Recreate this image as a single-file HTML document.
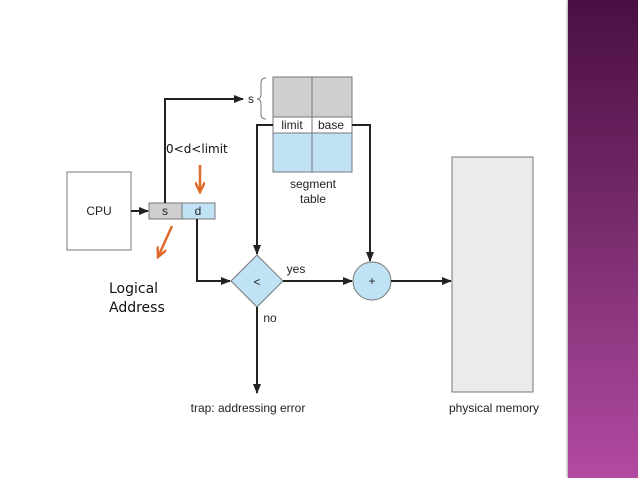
<!DOCTYPE html>
<html><head><style>
body{margin:0;width:638px;height:478px;background:#fff;overflow:hidden;position:relative;font-family:"Liberation Sans",sans-serif}
.bar{position:absolute;left:568px;top:0;width:70px;height:478px;background:linear-gradient(#4a0f42,#762a6a 45%,#b24aa2);box-shadow:-1px 0 2px #aaa}
</style></head><body>
<div class="bar"></div>
<svg width="638" height="478" style="position:absolute;left:0;top:0" font-family="Liberation Sans, sans-serif">
<defs>
<marker id="a" markerWidth="10" markerHeight="8" refX="9" refY="4" orient="auto" markerUnits="userSpaceOnUse"><path d="M0,0L10,4L0,8z" fill="#222"/></marker>
<marker id="o" markerWidth="12" markerHeight="10" refX="10" refY="5" orient="auto" markerUnits="userSpaceOnUse"><path d="M0,0L10,5L0,10" fill="none" stroke="#e06a2a" stroke-width="2.5"/></marker>
</defs>
<g stroke="#777" stroke-width="1" fill="#fff">
<rect x="67" y="172" width="64" height="78"/>
<rect x="149" y="203" width="33" height="16" fill="#cfcfd1"/>
<rect x="182" y="203" width="33" height="16" fill="#bfe2f5"/>
<rect x="273" y="77" width="79" height="40" fill="#cfcfd1"/>
<rect x="273" y="117" width="79" height="16" fill="#fff"/>
<rect x="273" y="133" width="79" height="39" fill="#bfe2f5"/>
<line x1="312" y1="77" x2="312" y2="172"/>
<rect x="452" y="157" width="81" height="235" fill="#ebebeb"/>
<path d="M257,255L283,281L257,307L231,281z" fill="#bfe2f5"/>
<circle cx="372" cy="281" r="19" fill="#bfe2f5"/>
</g>
<g stroke="#222" stroke-width="2" fill="none">
<line x1="131" y1="211" x2="148" y2="211" marker-end="url(#a)"/>
<polyline points="165,203 165,99 243,99" marker-end="url(#a)"/>
<polyline points="197,219 197,281 230,281" marker-end="url(#a)"/>
<polyline points="273,125 257,125 257,254" marker-end="url(#a)"/>
<polyline points="352,125 370,125 370,261" marker-end="url(#a)"/>
<line x1="283" y1="281" x2="352" y2="281" marker-end="url(#a)"/>
<line x1="391" y1="281" x2="451" y2="281" marker-end="url(#a)"/>
<line x1="257" y1="307" x2="257" y2="393" marker-end="url(#a)"/>
</g>
<path d="M266,78 q-5,0 -5,5 v11 q0,5 -4,5 q4,0 4,5 v10 q0,5 5,5" stroke="#777" fill="none"/>
<g stroke="#e06a2a" stroke-width="2.5" fill="none">
<line x1="200" y1="165" x2="200" y2="192" marker-end="url(#o)"/>
<line x1="172" y1="226" x2="158" y2="257" marker-end="url(#o)"/>
</g>
<g font-size="12" fill="#222" text-anchor="middle">
<text x="99" y="215">CPU</text>
<text x="165" y="215">s</text>
<text x="198" y="215">d</text>
<text x="251" y="103">s</text>
<text x="292" y="129">limit</text>
<text x="331" y="129">base</text>
<text x="313" y="188">segment</text>
<text x="313" y="203">table</text>
<text x="257" y="286">&lt;</text>
<text x="372" y="285">+</text>
<text x="296" y="273">yes</text>
<text x="270" y="322">no</text>
<text x="248" y="412">trap: addressing error</text>
<text x="494" y="412">physical memory</text>
</g>
<g font-size="14" fill="#111" font-family="DejaVu Sans, sans-serif">
<text x="166" y="153" font-size="12">0&lt;d&lt;limit</text>
<text x="109" y="293">Logical</text>
<text x="109" y="312">Address</text>
</g>
</svg>
</body></html>
